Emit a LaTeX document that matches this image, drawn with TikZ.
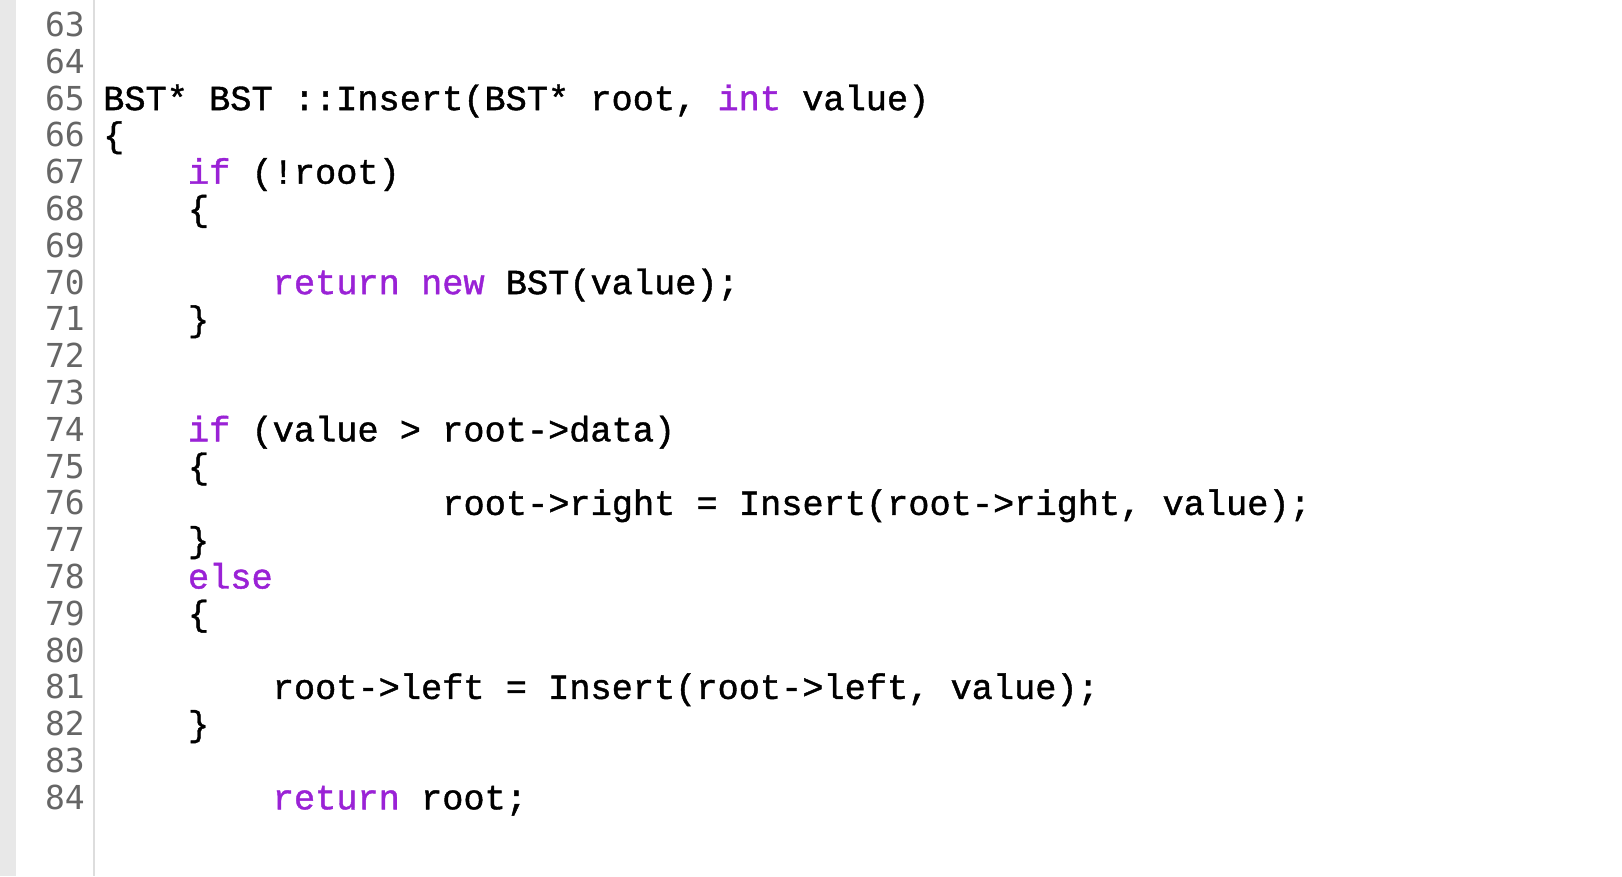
\documentclass[tikz,border=0pt]{standalone}
\usepackage{fontspec}
\setmonofont{DejaVu Sans Mono}
\newfontfamily\codefont[FakeBold=1.2]{Liberation Mono}
\definecolor{kw}{HTML}{9A22D6}
\definecolor{num}{HTML}{666666}
\definecolor{bar}{HTML}{E8E8E8}
\definecolor{gut}{HTML}{DDDDDD}
\begin{document}
\begin{tikzpicture}[x=1pt,y=-1pt,
  code/.style={anchor=base west,inner sep=0pt,font=\fontsize{35.3}{40}\codefont},
  lnum/.style={anchor=base east,inner sep=0pt,text=num,font=\fontsize{33}{40}\ttfamily}]
\useasboundingbox (0,0) rectangle (1622,876);
\fill[white] (0,0) rectangle (1622,876);
\fill[bar] (0,0) rectangle (16,876);
\draw[gut,line width=2pt] (94,0) -- (94,876);
\foreach \n [count=\i from 0] in {63,...,84}
  \node[lnum] (n\n) at (85,{36.5+36.8*\i}) {\n};
\newcommand{\kw}[1]{\textcolor{kw}{#1}}
\def\L#1#2#3{\node[code] (c#1) at ({103+21.2*#2},{36.5+36.8*(#1-63)}) {#3};}
\L{65}{0}{BST* BST ::Insert(BST* root, \kw{int} value)}
\L{66}{0}{\{}
\L{67}{4}{\kw{if} (!root)}
\L{68}{4}{\{}
\L{70}{8}{\kw{return} \kw{new} BST(value);}
\L{71}{4}{\}}
\L{74}{4}{\kw{if} (value > root->data)}
\L{75}{4}{\{}
\L{76}{16}{root->right = Insert(root->right, value);}
\L{77}{4}{\}}
\L{78}{4}{\kw{else}}
\L{79}{4}{\{}
\L{81}{8}{root->left = Insert(root->left, value);}
\L{82}{4}{\}}
\L{84}{8}{\kw{return} root;}
\end{tikzpicture}
\end{document}
